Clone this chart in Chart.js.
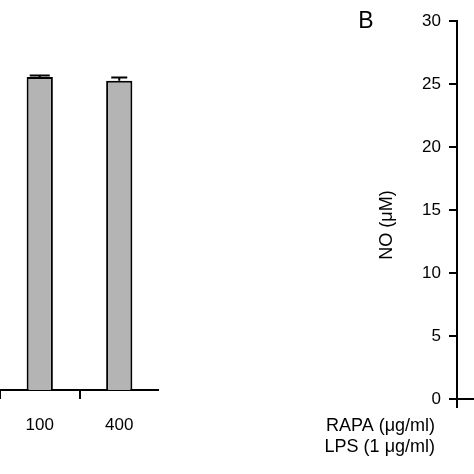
<!DOCTYPE html>
<html>
<head>
<meta charset="utf-8">
<script src="https://cdn.jsdelivr.net/npm/chart.js@4/dist/chart.umd.min.js"></script>
<style>
  html, body { margin: 0; padding: 0; background: #fff; overflow: hidden; }
  body { width: 474px; height: 474px; position: relative; }
  canvas { position: absolute; }
  #panelA { left: 0; top: 12px; }
  #panelB { left: 290px; top: 0; }
</style>
</head>
<body>
<canvas id="panelA" width="159" height="428"></canvas>
<canvas id="panelB" width="300" height="474"></canvas>
<script>
// Panel A data (only the last two RAPA doses are visible in the crop)
const rapaDoses = ['100', '400'];
const noValues = [24.85, 24.55];
const noErrors = [0.12, 0.25];

// Panel B axis
const yTicksB = [0, 5, 10, 15, 20, 25, 30];
const panelBGroups = [''];
const panelBValues = [];
const rowLabels = ['RAPA (\u03bcg/ml)', 'LPS (1 \u03bcg/ml)'];

const FONT = "'Liberation Sans', Arial, Helvetica, sans-serif";
Chart.defaults.color = '#000';
Chart.defaults.font.family = FONT;
Chart.defaults.animation = false;

/**
 * Draws the error bars above each bar.
 */
const errorBars = {
  id: 'errorBars',
  afterDatasetsDraw(chart) {
    const ctx = chart.ctx;
    const y = chart.scales.y;
    const meta = chart.getDatasetMeta(0);
    ctx.save();
    ctx.strokeStyle = '#000';
    ctx.lineWidth = 2;
    meta.data.forEach((bar, i) => {
      const top = y.getPixelForValue(noValues[i] + noErrors[i]);
      const half = i === 0 ? 10 : 8;
      ctx.beginPath();
      ctx.moveTo(bar.x, bar.y);
      ctx.lineTo(bar.x, top);
      ctx.moveTo(bar.x - half, top);
      ctx.lineTo(bar.x + half, top);
      ctx.stroke();
    });
    ctx.restore();
  },
};

// Panel A: bars
new Chart(document.getElementById('panelA'), {
  type: 'bar',
  data: {
    labels: rapaDoses,
    datasets: [{
      data: noValues,
      backgroundColor: '#b4b4b4',
      borderColor: '#000',
      borderWidth: 2,
      borderSkipped: 'bottom',
      categoryPercentage: 1,
      barPercentage: 0.33,
    }],
  },
  options: {
    responsive: false,
    layout: { padding: 0 },
    plugins: { legend: { display: false }, tooltip: { enabled: false } },
    scales: {
      x: {
        afterFit: (scale) => { scale.height = 50; },
        border: { color: '#000', width: 2 },
        grid: {
          offset: true,
          drawOnChartArea: false,
          tickLength: 9,
          lineWidth: 2,
          color: (c) => (c.index < rapaDoses.length ? '#000' : 'rgba(0,0,0,0)'),
        },
        ticks: { font: { size: 17 }, padding: 16, maxRotation: 0 },
      },
      y: { display: false, min: 0, max: 30 },
    },
  },
  plugins: [errorBars],
});

/**
 * Panel letter, y axis title and row labels under the x axis.
 */
const panelBText = {
  id: 'panelBText',
  afterDraw(chart) {
    const ctx = chart.ctx;
    const area = chart.chartArea;
    const y0 = chart.scales.y.getPixelForValue(0);
    ctx.save();
    ctx.fillStyle = '#000';

    ctx.font = `23px ${FONT}`;
    ctx.textAlign = 'center';
    ctx.textBaseline = 'alphabetic';
    ctx.fillText('B', area.left - 91, 28);

    ctx.save();
    ctx.translate(area.left - 70, (area.top + area.bottom) / 2 + 15);
    ctx.rotate(-Math.PI / 2);
    ctx.font = `18px ${FONT}`;
    ctx.textBaseline = 'middle';
    ctx.fillText('NO (\u03bcM)', 0, 0);
    ctx.restore();

    ctx.font = `18px ${FONT}`;
    ctx.textAlign = 'right';
    ctx.textBaseline = 'alphabetic';
    rowLabels.forEach((label, i) => {
      ctx.fillText(label, area.left - 22, y0 + 32 + i * 21);
    });
    ctx.restore();
  },
};

// Panel B: y axis only (its bars lie outside the crop)
new Chart(document.getElementById('panelB'), {
  type: 'bar',
  data: {
    labels: panelBGroups,
    datasets: [{ data: panelBValues, backgroundColor: '#b4b4b4' }],
  },
  options: {
    responsive: false,
    layout: { padding: { top: 21, left: 0, right: 0, bottom: 0 } },
    plugins: { legend: { display: false }, tooltip: { enabled: false } },
    scales: {
      x: {
        afterFit: (scale) => { scale.height = 75; },
        border: { color: '#000', width: 2 },
        grid: {
          offset: true,
          drawOnChartArea: false,
          tickLength: 9,
          lineWidth: 2,
          color: (c) => (c.index === 0 ? '#000' : 'rgba(0,0,0,0)'),
        },
        ticks: { display: false },
      },
      y: {
        min: 0,
        max: 30,
        afterFit: (scale) => { scale.width = 167; },
        afterBuildTicks: (scale) => { scale.ticks = yTicksB.map((v) => ({ value: v })); },
        border: { color: '#000', width: 2 },
        grid: { drawOnChartArea: false, tickLength: 8, lineWidth: 2, color: '#000' },
        ticks: { font: { size: 17 }, padding: 8 },
      },
    },
  },
  plugins: [panelBText],
});
</script>
</body>
</html>
